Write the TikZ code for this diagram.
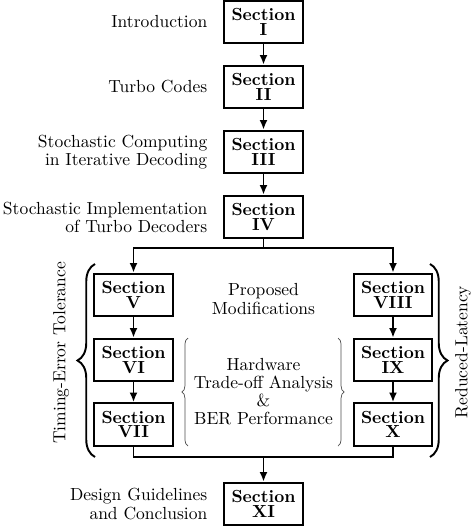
\documentclass[tikz,border=0pt]{standalone}
\usetikzlibrary{arrows.meta,positioning,decorations.pathreplacing}
\begin{document}
\begin{tikzpicture}
		[x=0.5714pt, y=-0.5714pt,
		block/.style ={rectangle, draw=black, line width=1.2pt, font=\bfseries\linespread{0.7}\selectfont, align=center, minimum width=45pt, minimum height=24.3pt, inner sep=0pt},
		line/.style ={draw, line width=1.1pt, -{Latex[length=5.5pt,width=4.6pt]}},
		link/.style ={draw, line width=1.1pt},
		desc/.style ={align=right, font=\linespread{0.86}\selectfont},
		note/.style ={align=center, font=\linespread{0.86}\selectfont},
		bigbrace/.style ={decorate, decoration={brace, amplitude=10pt}, line width=1.1pt},
		smallbrace/.style ={decorate, decoration={brace, amplitude=3.5pt}, line width=0.4pt, draw=black!70},
		]
		\useasboundingbox (0,0) rectangle (474,526);

		\draw (263.5,22) node[block] (S1) {Section\\I};
		\draw (263.5,87) node[block] (S2) {Section\\II};
		\draw (263.5,152) node[block] (S3) {Section\\III};
		\draw (263.5,217) node[block] (S4) {Section\\IV};
		\draw (133.5,295) node[block] (S5) {Section\\V};
		\draw (133.5,360) node[block] (S6) {Section\\VI};
		\draw (133.5,424.5) node[block] (S7) {Section\\VII};
		\draw (393,295) node[block] (S8) {Section\\VIII};
		\draw (393,360) node[block] (S9) {Section\\IX};
		\draw (393,424.5) node[block] (S10) {Section\\X};
		\draw (263.5,504) node[block] (S11) {Section\\XI};

		\node[desc, left=5.5pt of S1] (L1) {Introduction};
		\node[desc, left=5.5pt of S2] (L2) {Turbo Codes};
		\node[desc, left=5.5pt of S3] (L3) {Stochastic Computing\\in Iterative Decoding};
		\node[desc, left=5.5pt of S4] (L4) {Stochastic Implementation\\of Turbo Decoders};
		\node[desc, left=5.5pt of S11] (L11) {Design Guidelines\\and Conclusion};

		\node[note] (prop) at (263.5,299) {Proposed\\Modifications};
		\node[note] (hw) at (263.5,392) {Hardware\\Trade-off Analysis\\\&\\BER Performance};
		\node[rotate=90] (tet) at (61,353) {Timing-Error Tolerance};
		\node[rotate=90] (rl) at (463,352) {Reduced-Latency};

		\coordinate (split) at (263.5,248);
		\coordinate (join) at (263.5,457);

		\path[line]
		(S1) edge (S2)
		(S2) edge (S3)
		(S3) edge (S4)
		(S5) edge (S6)
		(S6) edge (S7)
		(S8) edge (S9)
		(S9) edge (S10);
		\draw[line] (S4) -- (split) -| (S5);
		\draw[line] (split) -| (S8);
		\draw[link] (S7) |- (join);
		\draw[link] (S10) |- (join);
		\draw[line] (join) -- (S11);

		\draw[bigbrace] (95,457) -- (95,264);
		\draw[bigbrace] (430,264) -- (430,457);
		\draw[smallbrace] (188,446) -- (188,338);
		\draw[smallbrace] (338,338) -- (338,446);

	\end{tikzpicture}
\end{document}
